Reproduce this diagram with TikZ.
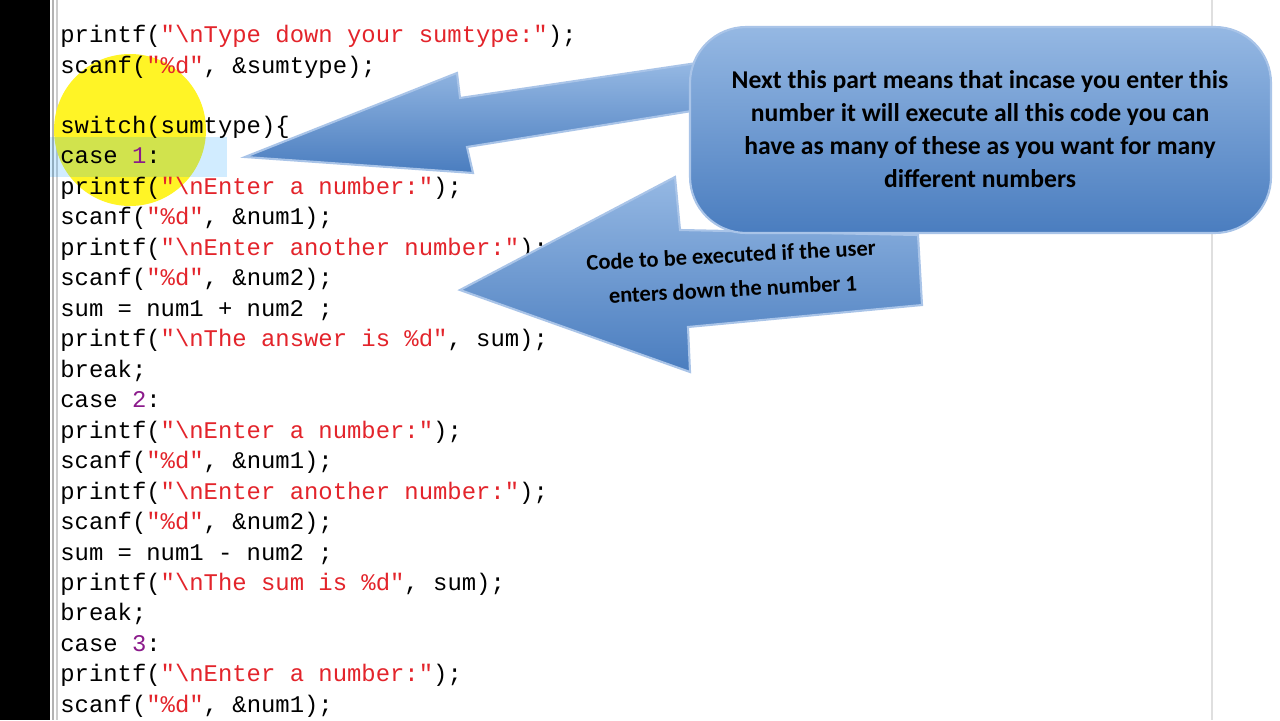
\documentclass[tikz,border=0pt]{standalone}
\usepackage{fontspec}
\newfontfamily\codefont{Liberation Mono}
\newfontfamily\calfont{Carlito}
\usetikzlibrary{shadings}
\definecolor{cred}{HTML}{E3242B}
\definecolor{cpur}{HTML}{8B1A8B}
\definecolor{blt}{HTML}{95B8E3}
\definecolor{bdk}{HTML}{4A7DBF}
\definecolor{bedge}{HTML}{A9C4E8}
\newcommand{\R}[1]{\textcolor{cred}{#1}}
\newcommand{\Pn}[1]{\textcolor{cpur}{#1}}
\newcommand{\bs}{\textbackslash}
\tikzset{
  codeline/.style={anchor=base west, inner sep=0pt, font=\codefont\fontsize{13.6}{16}\selectfont},
  callout/.style={top color=blt, bottom color=bdk, draw=bedge, line width=1.2pt},
  calltext/.style={font=\calfont\bfseries\fontsize{14.6}{18.8}\selectfont, align=center, text=black}
}
\begin{document}
\begin{tikzpicture}[x=0.02cm,y=-0.02cm]
\useasboundingbox (0,0) rectangle (1280,720);
\fill[white] (0,0) rectangle (1280,720);
\fill[black] (0,0) rectangle (50,720);
\draw[gray!60,line width=1pt] (53,0) -- (53,720);
\draw[gray!40,line width=0.8pt] (57,0) -- (57,720);
\draw[gray!25,line width=1pt] (1212,0) -- (1212,720);
% highlights
\fill[yellow!85!white] (130,130) circle (76);
\fill[blue!40!cyan,opacity=0.18] (50,137) rectangle (227,177);
% code
\foreach \y/\t in {
 42/{printf(\R{"\bs nType down your sumtype:"});},
 73/{scanf(\R{"\%d"}, \&sumtype);},
 133/{switch(sumtype)\{},
 163/{case \Pn{1}:},
 194/{printf(\R{"\bs nEnter a number:"});},
 224/{scanf(\R{"\%d"}, \&num1);},
 255/{printf(\R{"\bs nEnter another number:"});},
 285/{scanf(\R{"\%d"}, \&num2);},
 316/{sum = num1 + num2 ;},
 346/{printf(\R{"\bs nThe answer is \%d"}, sum);},
 377/{break;},
 407/{case \Pn{2}:},
 438/{printf(\R{"\bs nEnter a number:"});},
 468/{scanf(\R{"\%d"}, \&num1);},
 499/{printf(\R{"\bs nEnter another number:"});},
 529/{scanf(\R{"\%d"}, \&num2);},
 560/{sum = num1 - num2 ;},
 590/{printf(\R{"\bs nThe sum is \%d"}, sum);},
 620/{break;},
 651/{case \Pn{3}:},
 681/{printf(\R{"\bs nEnter a number:"});},
 712/{scanf(\R{"\%d"}, \&num1);}}
 \node[codeline] (c\y) at (60,\y) {\t};
% arrow 1
\path[callout] (245,157) -- (457,73) -- (460,98) -- (697,63) -- (698,110) -- (467,147) -- (473,173) -- cycle;
% arrow 2
\path[callout] (460,290) -- (675,177) -- (680,230) -- (918,235) -- (922,305) -- (688,327) -- (690,372) -- cycle;
\node[calltext, rotate=3, font=\calfont\bfseries\fontsize{12.8}{19.5}\selectfont] (t2) at (732,272) {Code to be executed if the user\\enters down the number 1};
% box
\path[callout, rounded corners=32] (690,27) rectangle (1271,233);
\node[calltext, font=\calfont\bfseries\fontsize{14.6}{18.8}\selectfont] (t1) at (980,129) {Next this part means that incase you enter this\\number it will execute all this code you can\\have as many of these as you want for many\\different numbers};
\end{tikzpicture}
\end{document}
